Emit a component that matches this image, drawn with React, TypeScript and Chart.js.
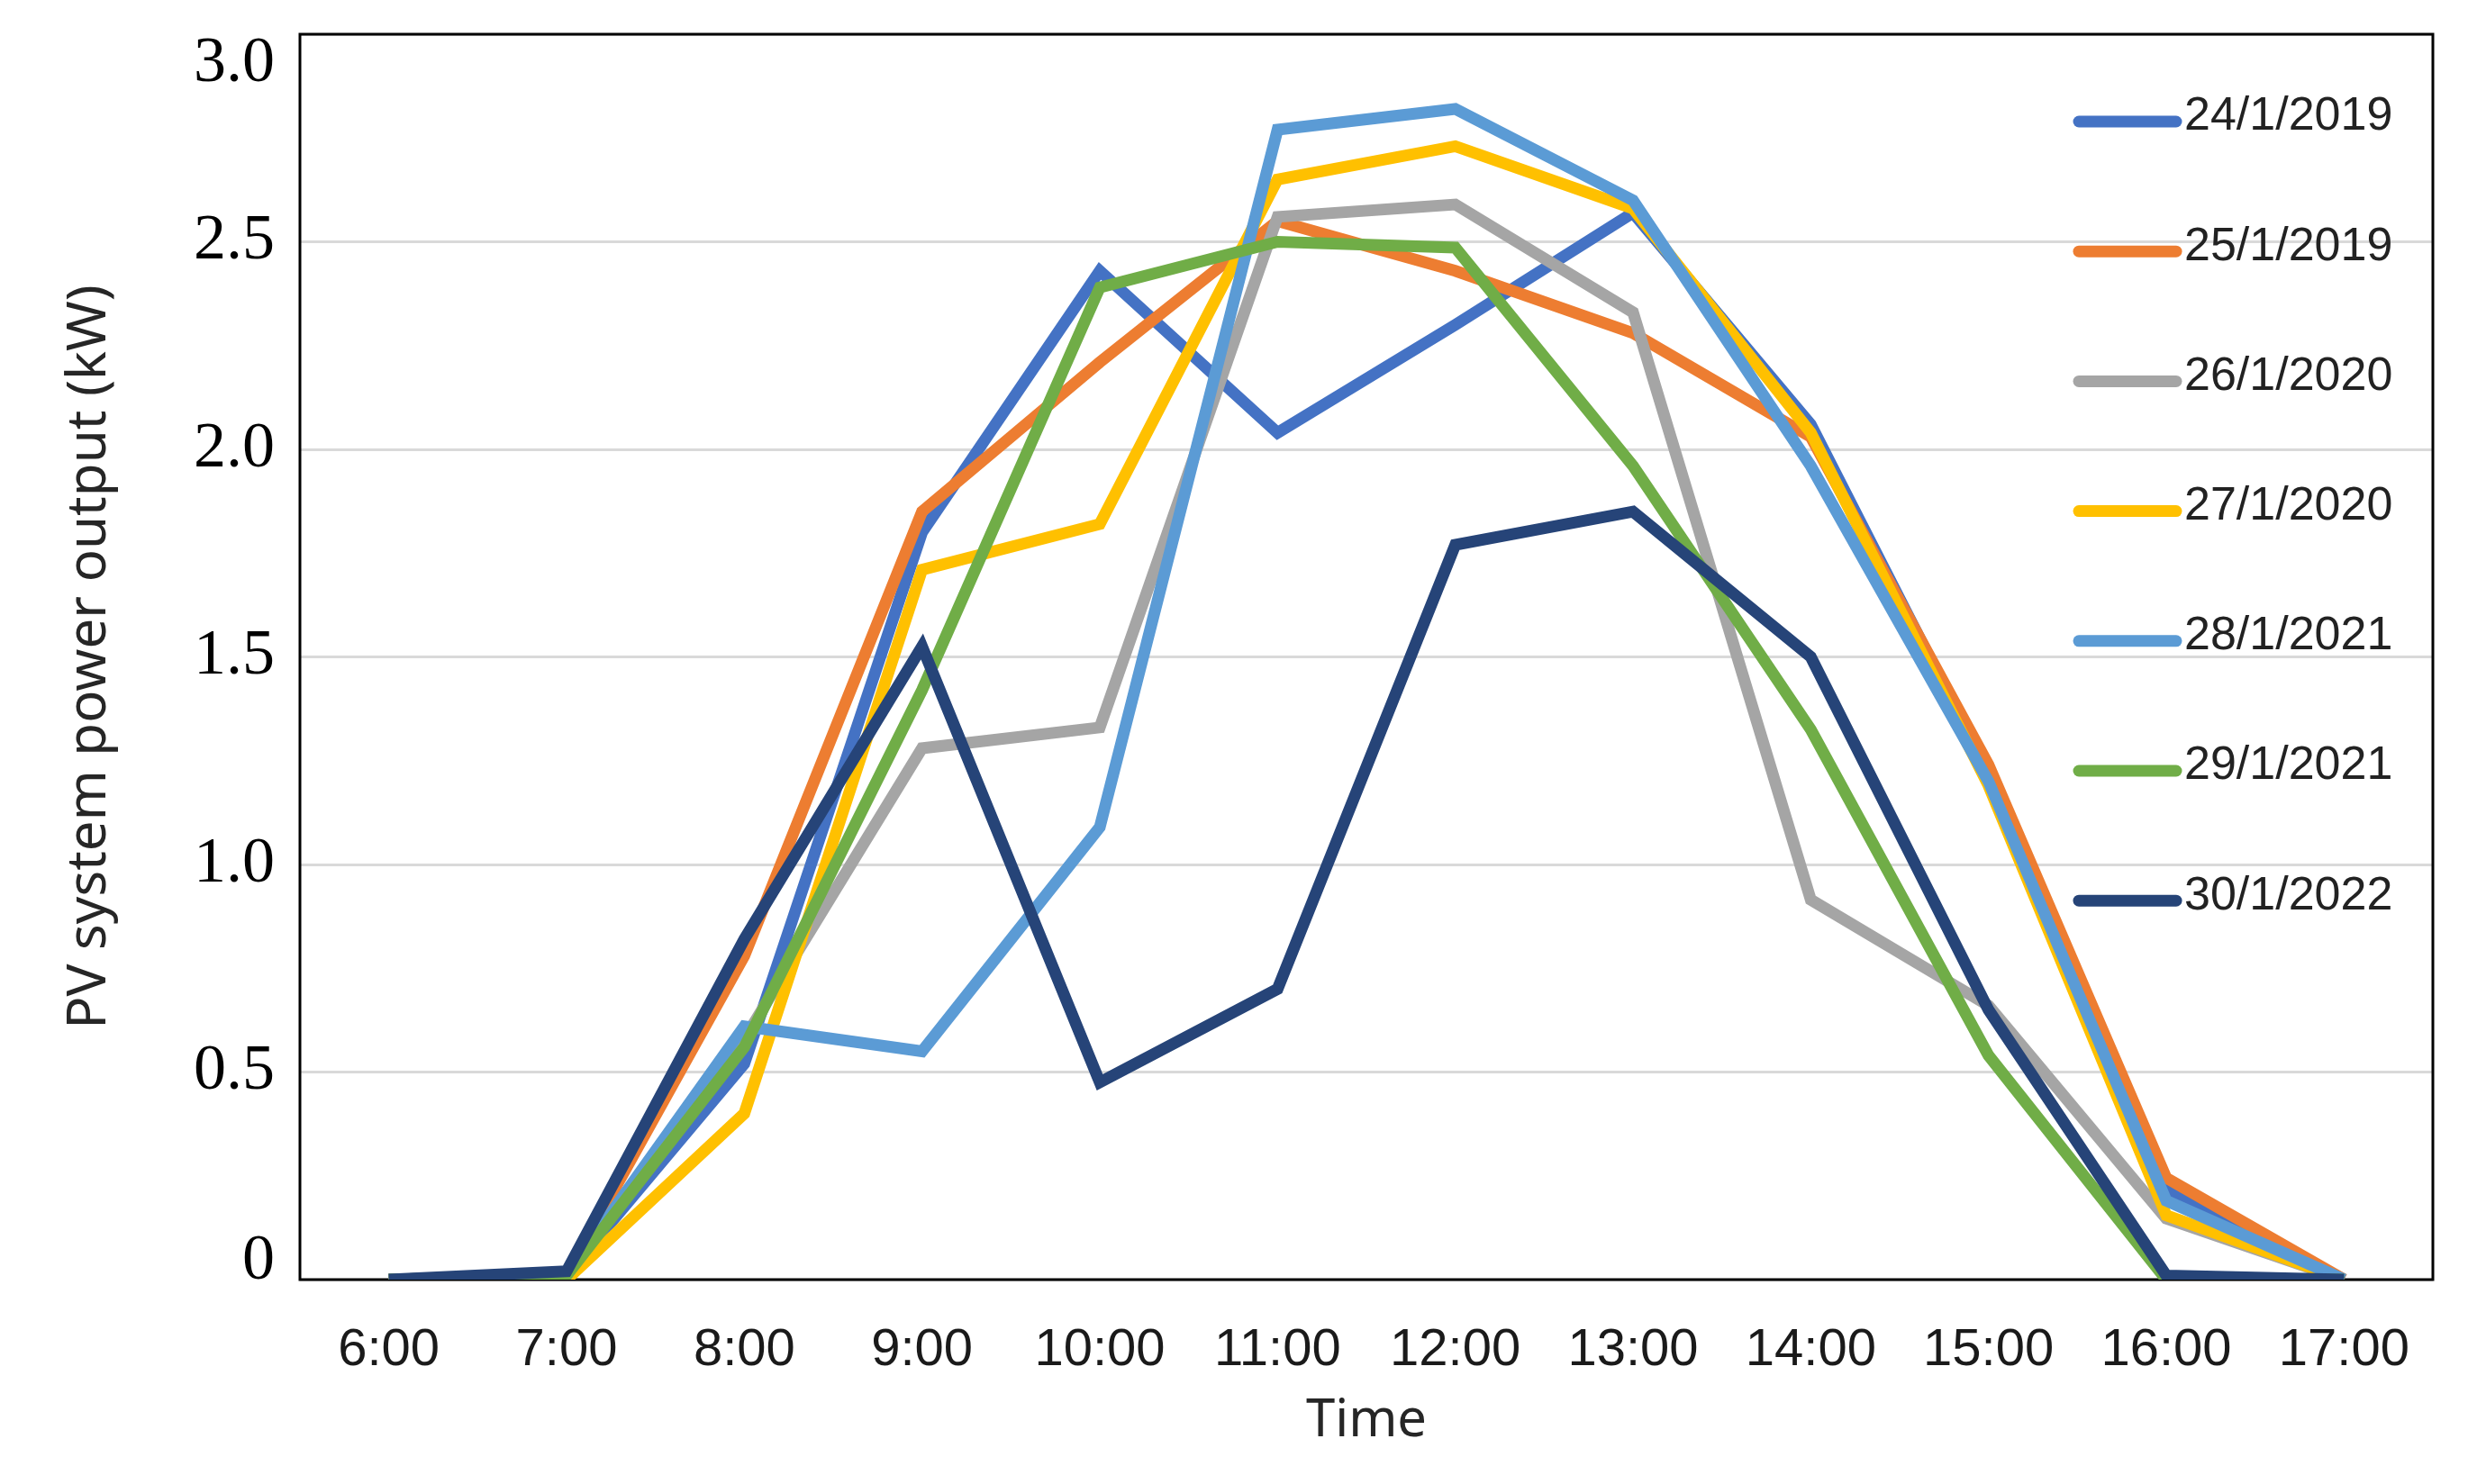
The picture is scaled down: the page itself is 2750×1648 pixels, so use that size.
import React, { useEffect, useRef } from 'react';
import { Chart, registerables } from 'chart.js';

Chart.register(...registerables);

const timeLabels = ['6:00', '7:00', '8:00', '9:00', '10:00', '11:00', '12:00', '13:00', '14:00', '15:00', '16:00', '17:00'];

const seriesNames = ['24/1/2019', '25/1/2019', '26/1/2020', '27/1/2020', '28/1/2021', '29/1/2021', '30/1/2022'];
const seriesColors = ['#4472C4', '#ED7D31', '#A5A5A5', '#FFC000', '#5B9BD5', '#70AD47', '#264478'];

const day24Jan2019 = [0, 0.01, 0.52, 1.8, 2.43, 2.04, 2.3, 2.57, 2.06, 1.22, 0.22, 0];
const day25Jan2019 = [0, 0.01, 0.78, 1.85, 2.21, 2.55, 2.43, 2.28, 2.03, 1.24, 0.245, 0];
const day26Jan2020 = [0, 0.01, 0.58, 1.28, 1.33, 2.56, 2.59, 2.33, 0.915, 0.66, 0.147, 0];
const day27Jan2020 = [0, 0, 0.4, 1.71, 1.82, 2.65, 2.73, 2.58, 2.04, 1.19, 0.155, 0];
const day28Jan2021 = [0, 0.01, 0.61, 0.55, 1.09, 2.77, 2.82, 2.6, 1.96, 1.2, 0.19, 0];
const day29Jan2021 = [0, 0.01, 0.56, 1.42, 2.39, 2.5, 2.486, 1.96, 1.325, 0.54, 0, 0];
const day30Jan2022 = [0, 0.02, 0.82, 1.525, 0.475, 0.7, 1.77, 1.85, 1.5, 0.65, 0.01, 0];

const seriesValues = [day24Jan2019, day25Jan2019, day26Jan2020, day27Jan2020, day28Jan2021, day29Jan2021, day30Jan2022];

const yMin = 0;
const yMax = 3;
const yStep = 0.5;

const plotBorder = {
  id: 'plotBorder',
  beforeDatasetsDraw(chart: any) {
    const { ctx, chartArea } = chart;
    ctx.save();
    ctx.strokeStyle = '#000000';
    ctx.lineWidth = 3;
    ctx.strokeRect(chartArea.left, chartArea.top, chartArea.right - chartArea.left, chartArea.bottom - chartArea.top);
    ctx.restore();
  },
};

const insideLegend = {
  id: 'insideLegend',
  afterDraw(chart: any) {
    const { ctx, chartArea } = chart;
    ctx.save();
    chart.data.datasets.forEach((ds: any, i: number) => {
      const y = chartArea.top + 97 + i * 144.2;
      const x0 = chartArea.right - 393;
      const x1 = chartArea.right - 285;
      ctx.strokeStyle = ds.borderColor;
      ctx.lineWidth = 13;
      ctx.lineCap = 'round';
      ctx.beginPath();
      ctx.moveTo(x0, y);
      ctx.lineTo(x1, y);
      ctx.stroke();
      ctx.fillStyle = '#222222';
      ctx.font = '52px "Liberation Sans", Arial, sans-serif';
      ctx.textAlign = 'left';
      ctx.textBaseline = 'middle';
      ctx.fillText(ds.label, chartArea.right - 276, y - 5);
    });
    ctx.restore();
  },
};

export default function App() {
  const canvasRef = useRef<HTMLCanvasElement | null>(null);

  useEffect(() => {
    if (!canvasRef.current) return;
    const chart = new Chart(canvasRef.current, {
      type: 'line',
      data: {
        labels: timeLabels,
        datasets: seriesNames.map((name, i) => ({
          label: name,
          data: seriesValues[i],
          borderColor: seriesColors[i],
          backgroundColor: seriesColors[i],
          borderWidth: 13,
          pointRadius: 0,
          tension: 0,
          fill: false,
          order: seriesNames.length - i,
        })),
      },
      options: {
        animation: false,
        responsive: false,
        devicePixelRatio: 1,
        layout: { padding: { top: 38, right: 49, left: 0, bottom: 0 } },
        plugins: {
          legend: { display: false },
          tooltip: { enabled: false },
        },
        scales: {
          x: {
            type: 'category',
            offset: true,
            grid: { display: false, drawTicks: false },
            border: { display: false },
            ticks: {
              padding: 44,
              color: '#1a1a1a',
              font: { family: '"Liberation Sans", Arial, sans-serif', size: 58 },
              maxRotation: 0,
              autoSkip: false,
            },
            title: {
              display: true,
              text: 'Time',
              color: '#262626',
              font: { family: '"Noto Sans", sans-serif', size: 58 },
              padding: { top: 0, bottom: 35 },
            },
            afterFit(scale: any) {
              scale.height = 227;
              scale.paddingLeft = 0;
              scale.paddingRight = 0;
              scale.paddingTop = 0;
              scale.paddingBottom = 0;
            },
          },
          y: {
            min: yMin,
            max: yMax,
            grid: { color: '#d9d9d9', lineWidth: 3, drawTicks: false },
            border: { display: false },
            ticks: {
              stepSize: yStep,
              padding: 28,
              color: '#000000',
              font: (ctx: any) => {
                const v = ctx.tick ? ctx.tick.value : null;
                let lh = 1.2;
                if (v === yMax) lh = 0.92;
                else if (v === yMin) lh = 0.56;
                return { family: '"Liberation Serif", "Times New Roman", serif', size: 72, lineHeight: lh };
              },
              callback: (v: any) => {
                const n = Number(v);
                if (n === yMin) return ['0', ''];
                if (n === yMax) return ['', n.toFixed(1)];
                return n.toFixed(1);
              },
            },
            title: {
              display: true,
              text: 'PV system power output (kW)',
              color: '#262626',
              font: { family: '"Noto Sans", sans-serif', size: 60 },
              padding: { top: 64, bottom: 0 },
            },
            afterFit(scale: any) {
              scale.width = 333;
              scale.paddingLeft = 0;
              scale.paddingRight = 0;
              scale.paddingTop = 0;
              scale.paddingBottom = 0;
            },
          },
        },
      },
      plugins: [plotBorder, insideLegend],
    });
    return () => chart.destroy();
  }, []);

  return (
    <div style={{ position: 'absolute', left: 0, top: 0, width: 2750, height: 1648, background: '#ffffff' }}>
      <canvas ref={canvasRef} width={2750} height={1648} style={{ display: 'block', width: 2750, height: 1648 }} />
    </div>
  );
}
